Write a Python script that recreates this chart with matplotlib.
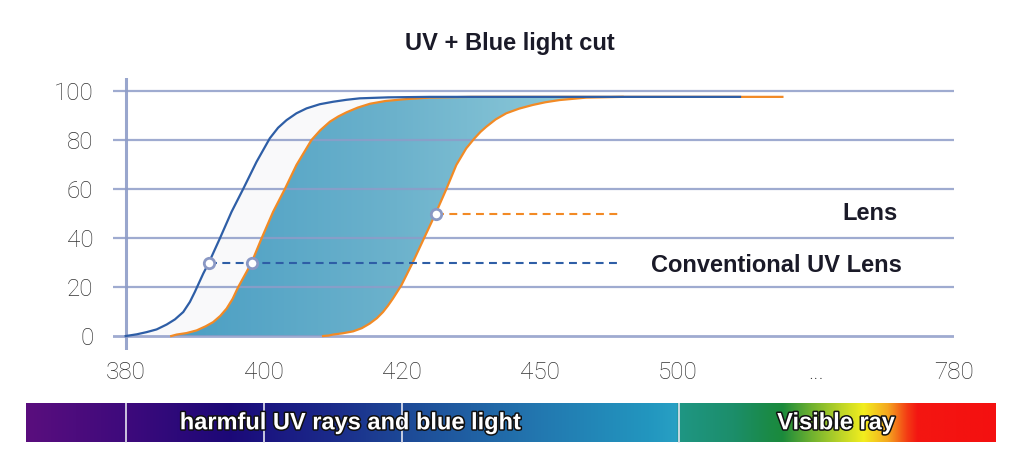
import numpy as np
import matplotlib
matplotlib.use("Agg")
import matplotlib.pyplot as plt
from matplotlib.colors import LinearSegmentedColormap
from matplotlib.patches import Polygon
import matplotlib.patheffects as pe

plt.rcParams['font.family'] = ['Liberation Sans', 'DejaVu Sans']

# x positions are category slots (0..6) on the wavelength axis
x_labels = ['380', '400', '420', '450', '500', '...', '780']
y_ticks = [0, 20, 40, 60, 80, 100]

# conventional UV lens curve (blue)
blue_x = [0.0, 0.080, 0.152, 0.224, 0.297, 0.357, 0.417, 0.465, 0.501, 0.562,
          0.603, 0.682, 0.767, 0.851, 0.948, 0.996, 1.044, 1.104, 1.165, 1.237,
          1.310, 1.406, 1.502, 1.599, 1.695, 1.90, 2.2, 4.45]
blue_y = [0.0, 0.7, 1.6, 2.7, 4.7, 6.8, 9.8, 13.9, 18.0, 25.5,
          30.0, 39.8, 50.7, 60.0, 71.1, 75.9, 80.7, 85.0, 88.1, 90.9,
          92.9, 94.6, 95.6, 96.4, 97.0, 97.4, 97.6, 97.6]

# lens curve, left edge (orange)
lens_l_x = [0.33, 0.369, 0.44, 0.514, 0.58, 0.634, 0.685, 0.731, 0.775, 0.815,
            0.876, 0.912, 0.984, 1.068, 1.153, 1.237, 1.346, 1.41, 1.48, 1.54,
            1.60, 1.68, 1.77, 1.88, 2.01, 2.2, 2.5, 3.6]
lens_l_y = [0.0, 0.6, 1.2, 2.3, 4.0, 5.7, 8.2, 11.2, 15.2, 20.0,
            26.2, 30.0, 39.8, 50.7, 60.0, 69.8, 80.0, 84.0, 87.5, 89.6,
            91.3, 93.2, 94.8, 95.9, 96.6, 97.3, 97.6, 97.6]

# lens curve, right edge (orange)
lens_r_x = [1.43, 1.47, 1.502, 1.57, 1.647, 1.71, 1.768, 1.82, 1.864, 1.90,
            1.936, 1.997, 2.081, 2.166, 2.245, 2.323, 2.395, 2.467, 2.527, 2.57,
            2.612, 2.68, 2.757, 2.85, 2.949, 3.04, 3.143, 3.336, 3.6, 4.757]
lens_r_y = [0.0, 0.2, 0.6, 1.1, 1.9, 3.2, 5.1, 7.3, 9.8, 12.4,
            15.3, 20.7, 30.2, 40.5, 50.0, 60.0, 69.8, 76.6, 80.7, 83.3,
            85.4, 88.4, 90.9, 92.8, 94.3, 95.4, 96.3, 97.3, 97.6, 97.6]

# marked points and where the dashed guides end
blue_marks = [(0.603, 30), (0.912, 30)]
lens_mark = (2.245, 50)
guide_end = 3.59

# spectrum bar colour stops (pixel position along bar, colour)
spec_px = [25.7, 125, 228, 262, 330, 401, 540, 648, 676, 678, 733, 767, 782,
           810, 840, 863, 887, 907, 917, 995]
spec_col = ['#5a0e7e', '#3e0a7c', '#1c0877', '#1a1480', '#1b2a8a', '#1d4896',
            '#2378b0', '#2296bf', '#28a0c4', '#1f9684', '#1c8e6a', '#1a8a48',
            '#1b8a3c', '#6cb030', '#bcd428', '#f2ee1e', '#f5a820', '#f33a14',
            '#f41612', '#f41010']

grid_c = '#8e9cc8'
blue_c = '#2e5ea6'
orange_c = '#f28a25'
mark_edge = '#8a98c4'

fig = plt.figure(figsize=(10.24, 4.69), dpi=100)
ax = fig.add_axes([112.7 / 1024, 1 - 350 / 469, 841.3 / 1024, 272 / 469])
ax.set_xlim(-0.094, 5.99)
ax.set_ylim(-5.7, 105.3)
for s in ax.spines.values():
    s.set_visible(False)

# light band between blue curve and lens left edge
lx = blue_x[:-1] + lens_l_x[::-1]
ly = blue_y[:-1] + lens_l_y[::-1]
ax.add_patch(Polygon(np.column_stack([lx, ly]), closed=True,
                     facecolor='#f9f9fa', edgecolor='none', zorder=1))

# gradient band between the lens edges
px_ = lens_l_x + lens_r_x[:-1][::-1]
py_ = lens_l_y + lens_r_y[:-1][::-1]
band = Polygon(np.column_stack([px_, py_]), closed=True,
               facecolor='none', edgecolor='none')
ax.add_patch(band)
fill_cmap = LinearSegmentedColormap.from_list('fill', ['#4a9ec3', '#6cb2cc', '#96cfdc'])
grad = np.linspace(0, 1, 256).reshape(1, -1)
im = ax.imshow(grad, extent=[0.33, 3.6, 0, 98], cmap=fill_cmap,
               aspect='auto', origin='lower', zorder=2)
im.set_clip_path(band)

# grid and axis
for v in y_ticks:
    ax.axhline(v, color=grid_c, lw=1.6 if v else 2.0, alpha=0.85, zorder=3)
ax.axvline(0, color=grid_c, lw=2.2, alpha=0.9, zorder=3)

ax.plot(lens_l_x, lens_l_y, color=orange_c, lw=1.6, zorder=4,
        solid_joinstyle='round')
ax.plot(lens_r_x, lens_r_y, color=orange_c, lw=1.6, zorder=4,
        solid_joinstyle='round')
ax.plot(blue_x, blue_y, color=blue_c, lw=1.6, zorder=5, solid_joinstyle='round')

ax.plot([blue_marks[0][0], guide_end], [30, 30], color=blue_c, lw=1.5,
        dashes=(3.8, 2.6), zorder=5)
ax.plot([lens_mark[0], guide_end], [50, 50], color=orange_c, lw=1.5,
        dashes=(3.8, 2.6), zorder=5)
mx = [p[0] for p in blue_marks] + [lens_mark[0]]
my = [p[1] for p in blue_marks] + [lens_mark[1]]
ax.plot(mx, my, 'o', ms=7.5, mfc='white', mec=mark_edge, mew=2, zorder=6)

ax.text(5.59, 50, 'Lens', ha='right', va='center', fontsize=17,
        fontweight='bold', color='#1a1a28')
ax.text(5.62, 28.8, 'Conventional UV Lens', ha='right', va='center',
        fontsize=17, fontweight='bold', color='#1a1a28')

ax.set_xticks(range(len(x_labels)), x_labels)
ax.set_yticks(y_ticks)
ax.tick_params(length=0, labelsize=17.5, labelcolor='#333333')
ax.tick_params(axis='y', pad=14)
ax.tick_params(axis='x', pad=8)
for t in ax.get_xticklabels() + ax.get_yticklabels():
    t.set_fontfamily(['Roboto', 'Liberation Sans'])
    t.set_fontweight('light')

fig.text(0.498, 0.908, 'UV + Blue light cut', ha='center', va='center',
         fontsize=17, fontweight='bold', color='#1a1a28')

# spectrum bar
bx = fig.add_axes([25.7 / 1024, 1 - 442.5 / 469, 969.3 / 1024, 39.5 / 469])
x0 = (25.7 - 125.7) / 138.2
x1 = (995 - 125.7) / 138.2
stops = [(p - spec_px[0]) / (spec_px[-1] - spec_px[0]) for p in spec_px]
spec_cmap = LinearSegmentedColormap.from_list('spec', list(zip(stops, spec_col)), N=1024)
bx.imshow(np.linspace(0, 1, 1024).reshape(1, -1), extent=[x0, x1, 0, 1],
          cmap=spec_cmap, aspect='auto')
bx.set_xlim(x0, x1)
bx.set_ylim(0, 1)
for v in [0, 1, 2, 4]:
    bx.axvline(v, color='#e4e4f0', lw=1.2)
bx.axis('off')
outline = [pe.withStroke(linewidth=2.2, foreground='#111111')]
bx.text(1.63, 0.5, 'harmful UV rays and blue light', ha='center', va='center',
        fontsize=17, fontweight='bold', color='white', path_effects=outline)
bx.text(5.14, 0.5, 'Visible ray', ha='center', va='center',
        fontsize=17, fontweight='bold', color='white', path_effects=outline)

fig.savefig('out.png', dpi=100)
